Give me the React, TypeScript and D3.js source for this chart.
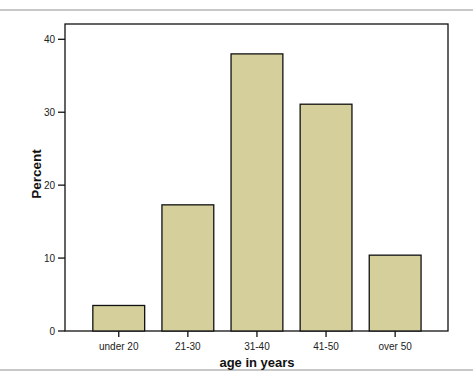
import React from "react";
import * as d3 from "d3";

const categories = ["under 20", "21-30", "31-40", "41-50", "over 50"];
const percents = [3.5, 17.3, 38.0, 31.1, 10.4];
const yTicks = [0, 10, 20, 30, 40];

export default function App() {
  const W = 474, H = 377;
  const frame = { left: 65, right: 448, top: 24, bottom: 331 };
  const x = d3.scaleBand<string>().domain(categories).range([84.2, 429.7]).paddingInner(0.25).paddingOuter(0.125);
  const y = d3.scaleLinear().domain([0, 40]).range([331, 39.3]);
  const font = "'Liberation Sans', Arial, Helvetica, sans-serif";
  return (
    <svg width={W} height={H} style={{ position: "absolute", left: 0, top: 0 }} fontFamily={font}>
      <rect x={0} y={0} width={W} height={H} fill="#fff" />
      <line x1={0} x2={473} y1={10} y2={10} stroke="#b5b5b5" strokeWidth={1.5} />
      <line x1={0} x2={473} y1={370} y2={370} stroke="#b5b5b5" strokeWidth={1.5} />
      <rect x={frame.left} y={frame.top} width={frame.right - frame.left} height={frame.bottom - frame.top} fill="none" stroke="#111" strokeWidth={1.3} />
      {yTicks.map((t) => (
        <g key={t}>
          <line x1={58} x2={frame.left} y1={y(t)} y2={y(t)} stroke="#111" strokeWidth={1.3} />
          <text x={55} y={y(t)} dy="0.35em" textAnchor="end" fontSize={10} fill="#222">{t}</text>
        </g>
      ))}
      {categories.map((c, i) => (
        <g key={c}>
          <rect x={x(c)} y={y(percents[i])} width={x.bandwidth()} height={y(0) - y(percents[i])} fill="#d4cf9b" stroke="#111" strokeWidth={1.3} />
          <line x1={x(c)! + x.bandwidth() / 2} x2={x(c)! + x.bandwidth() / 2} y1={frame.bottom} y2={frame.bottom + 6} stroke="#111" strokeWidth={1.3} />
          <text x={x(c)! + x.bandwidth() / 2} y={346} dy="0.35em" textAnchor="middle" fontSize={10} fill="#222">{c}</text>
        </g>
      ))}
      <text x={257} y={362} dy="0.35em" textAnchor="middle" fontSize={13} fontWeight="bold" fill="#111">age in years</text>
      <text transform={`translate(36,174) rotate(-90)`} dy="0.35em" textAnchor="middle" fontSize={13.5} fontWeight="bold" fill="#111">Percent</text>
    </svg>
  );
}
